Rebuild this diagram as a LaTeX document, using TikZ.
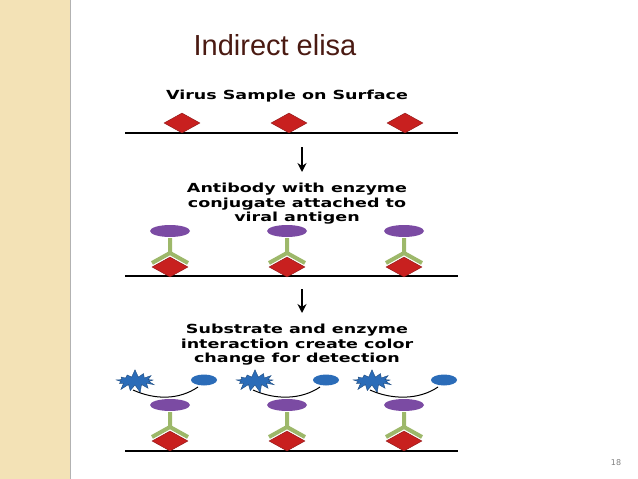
\documentclass[tikz,border=0pt]{standalone}
\usepackage{fontspec}
\setmainfont{DejaVu Sans}
\newfontfamily\wide[FakeStretch=1.4]{DejaVu Sans}
\newfontfamily\ttlf{Liberation Sans}
\usetikzlibrary{shapes.geometric,shapes.symbols,arrows.meta}
\definecolor{beige}{HTML}{F3E2B6}
\definecolor{dred}{HTML}{C8201F}
\definecolor{purp}{HTML}{7B4BA3}
\definecolor{grn}{HTML}{9DB86A}
\definecolor{blu}{HTML}{2B6CB8}
\definecolor{ttl}{HTML}{4A1A12}
\begin{document}
\begin{tikzpicture}[x=1pt,y=-1pt,
  dia/.style={diamond,fill=dred,draw=dred!70!black,minimum width=36pt,minimum height=20pt,inner sep=0pt,aspect=1.8},
  ov/.style={ellipse,fill=purp,minimum width=40pt,minimum height=12pt,inner sep=0pt},
  sov/.style={ellipse,fill=blu,minimum width=26pt,minimum height=11pt,inner sep=0pt},
  star/.style={starburst,fill=blu,draw=blu!70!black,minimum width=44pt,minimum height=24pt,inner sep=0pt,starburst points=13,starburst point height=8pt,random starburst=7},
  lbl/.style={font=\wide\bfseries\fontsize{12.5}{14.5}\selectfont,align=center},
  surf/.style={line width=2pt},
  ar/.style={line width=2.4pt,-{Stealth[length=9pt,width=9pt]}}]
\useasboundingbox (0,0) rectangle (638,479);
\fill[beige] (0,0) rectangle (70,479);
\draw[gray!60] (70,0) -- (70,479);
\node[font=\ttlf\fontsize{29}{30}\selectfont,text=ttl] (title) at (275,45) {Indirect elisa};
\node[lbl] (t1) at (287,96) {Virus Sample on Surface};
\coordinate (l1a) at (125,133); \coordinate (l1b) at (458,133);
\draw[surf] (l1a) -- (l1b);
\foreach \x/\n in {182/a,289/b,405/c}{\node[dia] (d1\n) at (\x,123) {};}
\coordinate (a1s) at (302,147); \coordinate (a1e) at (302,172);
\draw[ar] (a1s) -- (a1e);
\node[lbl] (t2) at (297,204) {Antibody with enzyme\\conjugate attached to\\viral antigen};
\coordinate (l2a) at (125,276); \coordinate (l2b) at (458,276);
\draw[surf] (l2a) -- (l2b);
\foreach \x/\n in {170/a,287/b,404/c}{
  \coordinate (s2\n) at (\x,238); \coordinate (j2\n) at (\x,253);
  \coordinate (la2\n) at (\x-18,263); \coordinate (ra2\n) at (\x+18,263);
  \draw[grn,line width=4pt] (s2\n) -- (j2\n) (la2\n) -- (j2\n) -- (ra2\n);
  \node[ov] (o2\n) at (\x,231) {};
  \node[dia] (d2\n) at (\x,267) {};}
\coordinate (a2s) at (302,289); \coordinate (a2e) at (302,313);
\draw[ar] (a2s) -- (a2e);
\node[lbl] (t3) at (297,345) {Substrate and enzyme\\interaction create color\\change for detection};
\coordinate (l3a) at (125,451); \coordinate (l3b) at (458,451);
\draw[surf] (l3a) -- (l3b);
\foreach \x/\n in {170/a,287/b,404/c}{
  \coordinate (s3\n) at (\x,412); \coordinate (j3\n) at (\x,427);
  \coordinate (la3\n) at (\x-18,437); \coordinate (ra3\n) at (\x+18,437);
  \draw[grn,line width=4pt] (s3\n) -- (j3\n) (la3\n) -- (j3\n) -- (ra3\n);
  \node[ov] (o3\n) at (\x,405) {};
  \node[dia] (d3\n) at (\x,441) {};}
\foreach \sx/\ox/\n in {135/204/a,255/326/b,372/444/c}{
  \node[star] (st\n) at (\sx,381) {};
  \node[sov] (so\n) at (\ox,380) {};
  \draw[line width=1pt] (\sx-2,390) .. controls (\sx+20,400) and (\ox-25,400) .. (\ox-6,387);}
\node[font=\fontsize{8}{9}\selectfont,text=gray] (pg) at (616,463) {18};
\end{tikzpicture}
\end{document}
